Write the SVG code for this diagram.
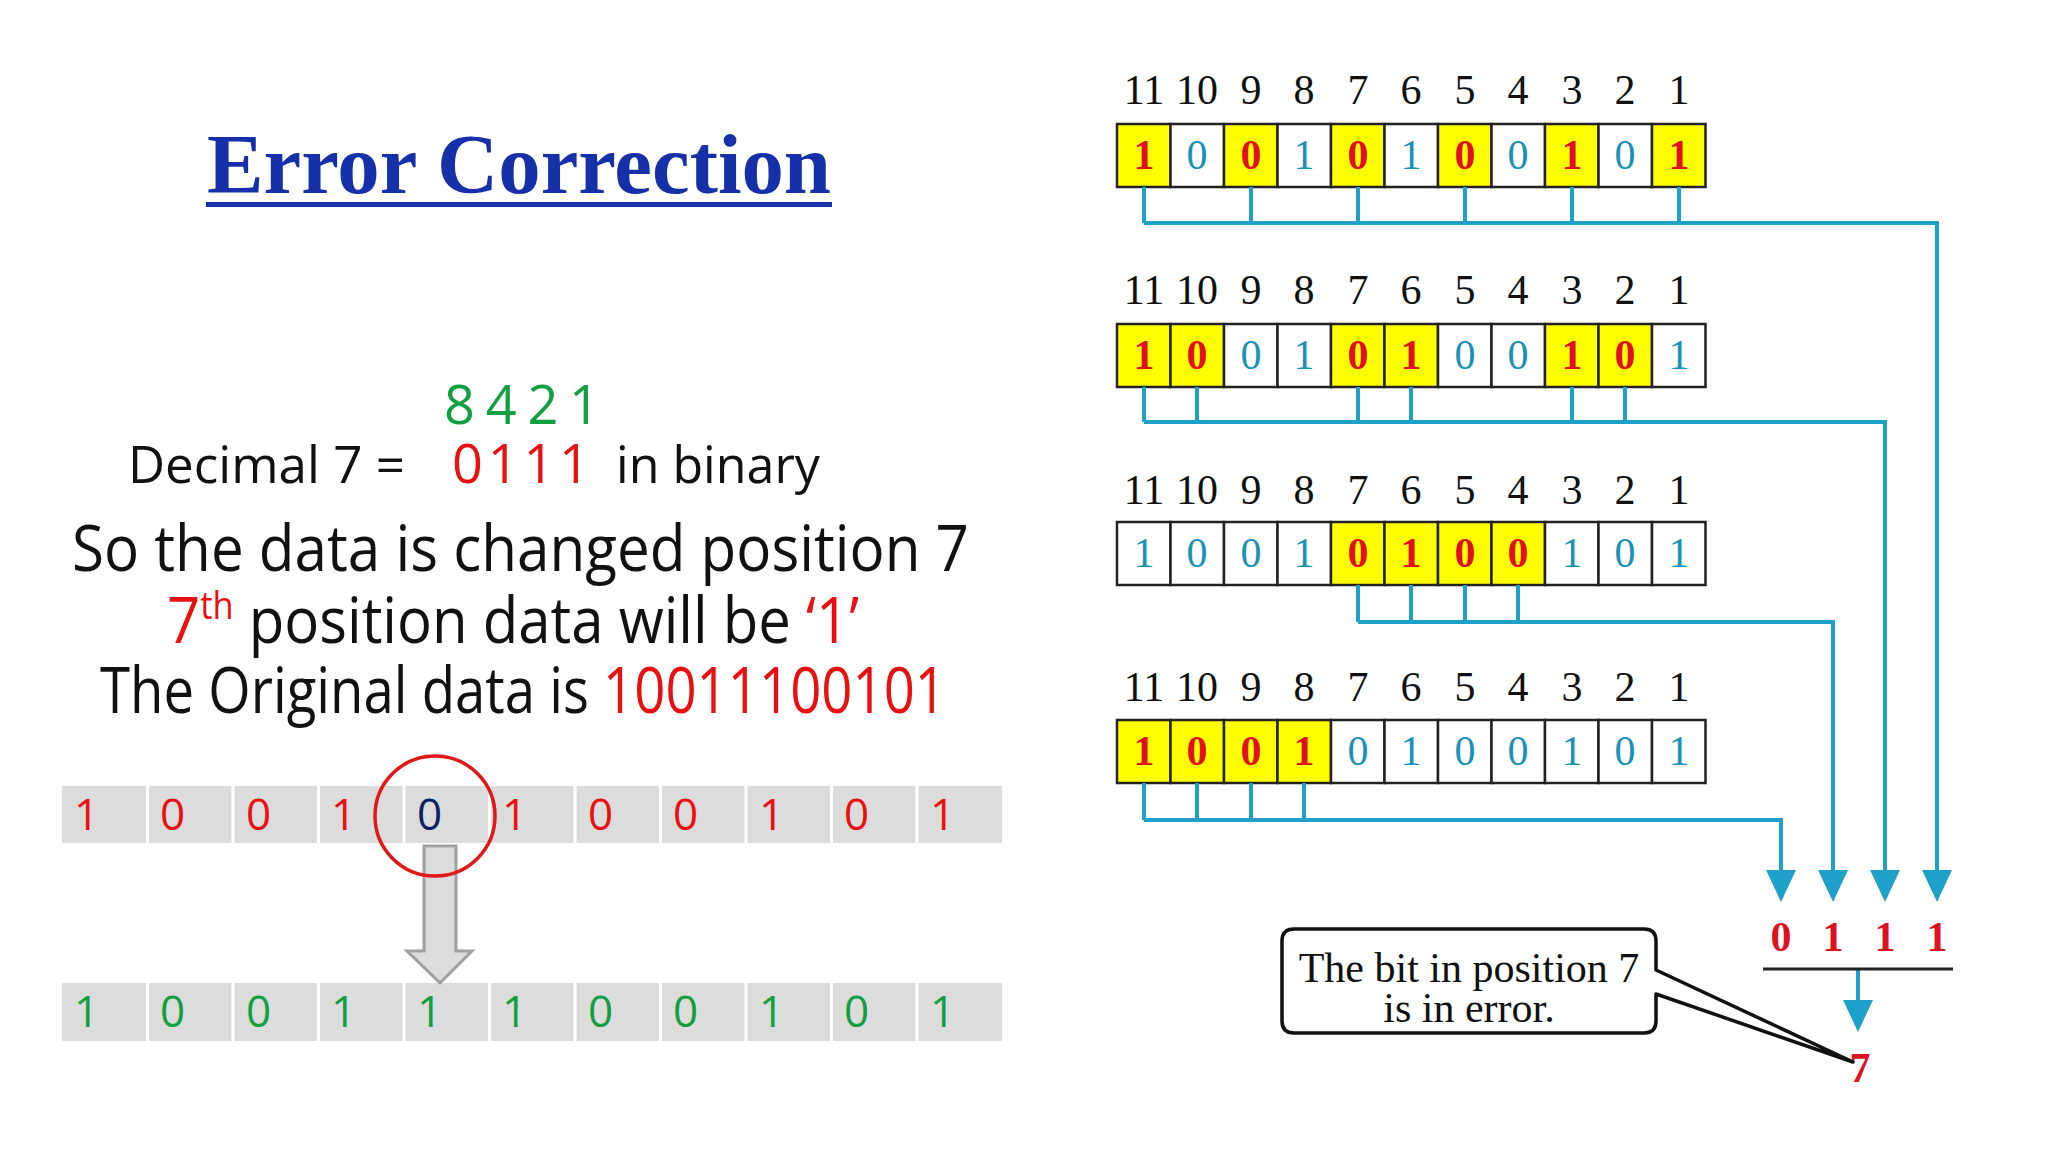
<svg xmlns="http://www.w3.org/2000/svg" width="2048" height="1152" viewBox="0 0 2048 1152">
<style>
.lbl{font-family:"Liberation Serif",serif;font-size:42px;fill:#111;text-anchor:middle}
.cw{fill:#fff;stroke:#222;stroke-width:2.5}
.cy{fill:#ffff00;stroke:#222;stroke-width:2.5}
.dr{font-family:"Liberation Serif",serif;font-size:42px;font-weight:bold;fill:#e01020;text-anchor:middle}
.dt{font-family:"Liberation Serif",serif;font-size:42px;fill:#1a92b8;text-anchor:middle}
.bus{fill:none;stroke:#1ea0c8;stroke-width:4}
.gc{fill:#dcdcdc}
.seg{font-family:"Open Sans","Noto Sans",sans-serif}
.br{font-family:"Open Sans",sans-serif;font-size:44px;fill:#e81010}
.bg{font-family:"Open Sans",sans-serif;font-size:44px;fill:#10a040}
</style>
<rect width="2048" height="1152" fill="#fff"/>
<g id="title">
<text x="519" y="193" text-anchor="middle" font-family="Liberation Serif,serif" font-weight="bold" font-size="84" fill="#1530a8" textLength="624" lengthAdjust="spacingAndGlyphs">Error Correction</text>
<rect x="206" y="202" width="626" height="5" fill="#1530a8"/>
</g>
<g id="explain" class="seg">
<text x="444" y="424" font-size="54" fill="#10a040" textLength="156" lengthAdjust="spacing">8 4 2 1</text>
<text x="128" y="483" font-size="52" fill="#111" textLength="277" lengthAdjust="spacingAndGlyphs">Decimal 7 =</text>
<text x="452" y="483" font-size="54" fill="#e81010" textLength="138" lengthAdjust="spacing">0 1 1 1</text>
<text x="616" y="483" font-size="52" fill="#111" textLength="204" lengthAdjust="spacingAndGlyphs">in binary</text>
<text x="72" y="571" font-size="64" fill="#111" textLength="897" lengthAdjust="spacingAndGlyphs">So the data is changed position 7</text>
<text x="167" y="643" font-size="64" fill="#111" textLength="692" lengthAdjust="spacingAndGlyphs"><tspan fill="#e81010">7</tspan><tspan fill="#e81010" font-size="38" dy="-24">th</tspan><tspan dy="24"> position data will be </tspan><tspan fill="#e81010">‘1’</tspan></text>
<text x="100" y="713" font-size="64" fill="#111" textLength="846" lengthAdjust="spacingAndGlyphs">The Original data is <tspan fill="#e81010">10011100101</tspan></text>
</g>
<g id="row-before">
<rect class="gc" x="62" y="786" width="940" height="57"/>
<g stroke="#fff" stroke-width="3"><path d="M147.5,786v57M233,786v57M318.5,786v57M404,786v57M489.5,786v57M575,786v57M660.5,786v57M746,786v57M831.5,786v57M917,786v57"/></g>
<text class="br" x="74" y="830">1</text><text class="br" x="160" y="830">0</text><text class="br" x="246" y="830">0</text><text class="br" x="331" y="830">1</text>
<text x="417" y="830" font-family="Open Sans,sans-serif" font-size="44" fill="#102060">0</text>
<text class="br" x="502" y="830">1</text><text class="br" x="588" y="830">0</text><text class="br" x="673" y="830">0</text><text class="br" x="759" y="830">1</text><text class="br" x="844" y="830">0</text><text class="br" x="930" y="830">1</text>
</g>
<g id="row-after">
<rect class="gc" x="62" y="983" width="940" height="58"/>
<g stroke="#fff" stroke-width="3"><path d="M147.5,983v58M233,983v58M318.5,983v58M404,983v58M489.5,983v58M575,983v58M660.5,983v58M746,983v58M831.5,983v58M917,983v58"/></g>
<text class="bg" x="74" y="1027">1</text><text class="bg" x="160" y="1027">0</text><text class="bg" x="246" y="1027">0</text><text class="bg" x="331" y="1027">1</text><text class="bg" x="417" y="1027">1</text><text class="bg" x="502" y="1027">1</text><text class="bg" x="588" y="1027">0</text><text class="bg" x="673" y="1027">0</text><text class="bg" x="759" y="1027">1</text><text class="bg" x="844" y="1027">0</text><text class="bg" x="930" y="1027">1</text>
</g>
<g id="fix-arrow">
<path d="M424,846 H456 V951 H472 L440,983 L407,951 H424 Z" fill="#dcdcdc" stroke="#a0a0a0" stroke-width="3"/>
<circle cx="435" cy="816" r="60" fill="none" stroke="#e01818" stroke-width="3.5"/>
</g>
<g id="grid1">
<g class="lbl"><text x="1144" y="104">11</text><text x="1197" y="104">10</text><text x="1251" y="104">9</text><text x="1304" y="104">8</text><text x="1358" y="104">7</text><text x="1411" y="104">6</text><text x="1465" y="104">5</text><text x="1518" y="104">4</text><text x="1572" y="104">3</text><text x="1625" y="104">2</text><text x="1679" y="104">1</text></g>
<rect class="cy" x="1117" y="124" width="53.5" height="63"/><rect class="cw" x="1170.5" y="124" width="53.5" height="63"/><rect class="cy" x="1224" y="124" width="53.5" height="63"/><rect class="cw" x="1277.5" y="124" width="53.5" height="63"/><rect class="cy" x="1331" y="124" width="53.5" height="63"/><rect class="cw" x="1384.5" y="124" width="53.5" height="63"/><rect class="cy" x="1438" y="124" width="53.5" height="63"/><rect class="cw" x="1491.5" y="124" width="53.5" height="63"/><rect class="cy" x="1545" y="124" width="53.5" height="63"/><rect class="cw" x="1598.5" y="124" width="53.5" height="63"/><rect class="cy" x="1652" y="124" width="53.5" height="63"/>
<text class="dr" x="1144" y="169">1</text><text class="dt" x="1197" y="169">0</text><text class="dr" x="1251" y="169">0</text><text class="dt" x="1304" y="169">1</text><text class="dr" x="1358" y="169">0</text><text class="dt" x="1411" y="169">1</text><text class="dr" x="1465" y="169">0</text><text class="dt" x="1518" y="169">0</text><text class="dr" x="1572" y="169">1</text><text class="dt" x="1625" y="169">0</text><text class="dr" x="1679" y="169">1</text>
</g>
<g id="grid2">
<g class="lbl"><text x="1144" y="304">11</text><text x="1197" y="304">10</text><text x="1251" y="304">9</text><text x="1304" y="304">8</text><text x="1358" y="304">7</text><text x="1411" y="304">6</text><text x="1465" y="304">5</text><text x="1518" y="304">4</text><text x="1572" y="304">3</text><text x="1625" y="304">2</text><text x="1679" y="304">1</text></g>
<rect class="cy" x="1117" y="324" width="53.5" height="63"/><rect class="cy" x="1170.5" y="324" width="53.5" height="63"/><rect class="cw" x="1224" y="324" width="53.5" height="63"/><rect class="cw" x="1277.5" y="324" width="53.5" height="63"/><rect class="cy" x="1331" y="324" width="53.5" height="63"/><rect class="cy" x="1384.5" y="324" width="53.5" height="63"/><rect class="cw" x="1438" y="324" width="53.5" height="63"/><rect class="cw" x="1491.5" y="324" width="53.5" height="63"/><rect class="cy" x="1545" y="324" width="53.5" height="63"/><rect class="cy" x="1598.5" y="324" width="53.5" height="63"/><rect class="cw" x="1652" y="324" width="53.5" height="63"/>
<text class="dr" x="1144" y="369">1</text><text class="dr" x="1197" y="369">0</text><text class="dt" x="1251" y="369">0</text><text class="dt" x="1304" y="369">1</text><text class="dr" x="1358" y="369">0</text><text class="dr" x="1411" y="369">1</text><text class="dt" x="1465" y="369">0</text><text class="dt" x="1518" y="369">0</text><text class="dr" x="1572" y="369">1</text><text class="dr" x="1625" y="369">0</text><text class="dt" x="1679" y="369">1</text>
</g>
<g id="grid3">
<g class="lbl"><text x="1144" y="504">11</text><text x="1197" y="504">10</text><text x="1251" y="504">9</text><text x="1304" y="504">8</text><text x="1358" y="504">7</text><text x="1411" y="504">6</text><text x="1465" y="504">5</text><text x="1518" y="504">4</text><text x="1572" y="504">3</text><text x="1625" y="504">2</text><text x="1679" y="504">1</text></g>
<rect class="cw" x="1117" y="522" width="53.5" height="63"/><rect class="cw" x="1170.5" y="522" width="53.5" height="63"/><rect class="cw" x="1224" y="522" width="53.5" height="63"/><rect class="cw" x="1277.5" y="522" width="53.5" height="63"/><rect class="cy" x="1331" y="522" width="53.5" height="63"/><rect class="cy" x="1384.5" y="522" width="53.5" height="63"/><rect class="cy" x="1438" y="522" width="53.5" height="63"/><rect class="cy" x="1491.5" y="522" width="53.5" height="63"/><rect class="cw" x="1545" y="522" width="53.5" height="63"/><rect class="cw" x="1598.5" y="522" width="53.5" height="63"/><rect class="cw" x="1652" y="522" width="53.5" height="63"/>
<text class="dt" x="1144" y="567">1</text><text class="dt" x="1197" y="567">0</text><text class="dt" x="1251" y="567">0</text><text class="dt" x="1304" y="567">1</text><text class="dr" x="1358" y="567">0</text><text class="dr" x="1411" y="567">1</text><text class="dr" x="1465" y="567">0</text><text class="dr" x="1518" y="567">0</text><text class="dt" x="1572" y="567">1</text><text class="dt" x="1625" y="567">0</text><text class="dt" x="1679" y="567">1</text>
</g>
<g id="grid4">
<g class="lbl"><text x="1144" y="701">11</text><text x="1197" y="701">10</text><text x="1251" y="701">9</text><text x="1304" y="701">8</text><text x="1358" y="701">7</text><text x="1411" y="701">6</text><text x="1465" y="701">5</text><text x="1518" y="701">4</text><text x="1572" y="701">3</text><text x="1625" y="701">2</text><text x="1679" y="701">1</text></g>
<rect class="cy" x="1117" y="720" width="53.5" height="63"/><rect class="cy" x="1170.5" y="720" width="53.5" height="63"/><rect class="cy" x="1224" y="720" width="53.5" height="63"/><rect class="cy" x="1277.5" y="720" width="53.5" height="63"/><rect class="cw" x="1331" y="720" width="53.5" height="63"/><rect class="cw" x="1384.5" y="720" width="53.5" height="63"/><rect class="cw" x="1438" y="720" width="53.5" height="63"/><rect class="cw" x="1491.5" y="720" width="53.5" height="63"/><rect class="cw" x="1545" y="720" width="53.5" height="63"/><rect class="cw" x="1598.5" y="720" width="53.5" height="63"/><rect class="cw" x="1652" y="720" width="53.5" height="63"/>
<text class="dr" x="1144" y="765">1</text><text class="dr" x="1197" y="765">0</text><text class="dr" x="1251" y="765">0</text><text class="dr" x="1304" y="765">1</text><text class="dt" x="1358" y="765">0</text><text class="dt" x="1411" y="765">1</text><text class="dt" x="1465" y="765">0</text><text class="dt" x="1518" y="765">0</text><text class="dt" x="1572" y="765">1</text><text class="dt" x="1625" y="765">0</text><text class="dt" x="1679" y="765">1</text>
</g>
<g id="connectors">
<path class="bus" d="M1144,187V223M1251,187V223M1358,187V223M1465,187V223M1572,187V223M1679,187V223M1144,223H1937V870"/>
<path class="bus" d="M1144,387V422M1197,387V422M1358,387V422M1411,387V422M1572,387V422M1625,387V422M1144,422H1885V870"/>
<path class="bus" d="M1358,585V622M1411,585V622M1465,585V622M1518,585V622M1358,622H1833V870"/>
<path class="bus" d="M1144,783V820M1197,783V820M1251,783V820M1304,783V820M1144,820H1781V870"/>
<g fill="#1ea0c8"><path d="M1766,870H1796L1781,902Z"/><path d="M1818,870H1848L1833,902Z"/><path d="M1870,870H1900L1885,902Z"/><path d="M1922,870H1952L1937,902Z"/><path d="M1843,1000H1873L1858,1032Z"/></g>
<path class="bus" d="M1858,969V1002"/>
<path d="M1763,969H1953" stroke="#222" stroke-width="3"/>
</g>
<g id="result">
<text class="dr" x="1781" y="951">0</text><text class="dr" x="1833" y="951">1</text><text class="dr" x="1885" y="951">1</text><text class="dr" x="1937" y="951">1</text>
<text class="dr" x="1860" y="1082">7</text>
</g>
<g id="callout">
<path d="M1294,929 H1644 Q1656,929 1656,941 V970 L1853,1062 L1656,994 V1021 Q1656,1033 1644,1033 H1294 Q1282,1033 1282,1021 V941 Q1282,929 1294,929 Z" fill="#fff" stroke="#111" stroke-width="3.5" stroke-linejoin="round"/>
<text x="1469" y="982" text-anchor="middle" font-family="Liberation Serif,serif" font-size="42" fill="#111">The bit in position 7</text>
<text x="1469" y="1022" text-anchor="middle" font-family="Liberation Serif,serif" font-size="42" fill="#111">is in error.</text>
</g>
</svg>
